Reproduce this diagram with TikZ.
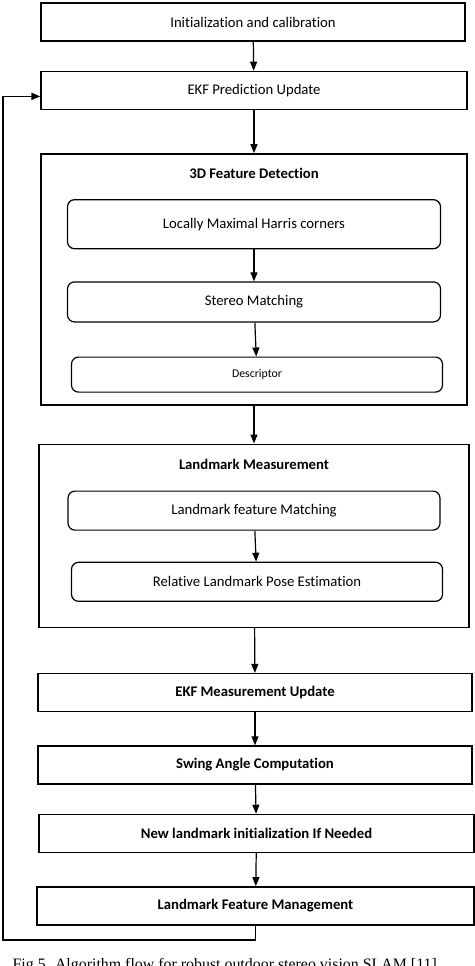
\documentclass[tikz,border=0pt]{standalone}
\usepackage{fontspec}
\setmainfont[Ligatures=NoCommon]{Carlito}
\newfontfamily\capfont{Liberation Serif}
\usetikzlibrary{arrows.meta,positioning}

\begin{document}
\begin{tikzpicture}[->,>={Triangle[length=9pt,width=7pt]},line width=1.2pt,node distance=30pt]
	\tikzstyle{every node}=[inner sep=0pt]
	\tikzstyle{block}=[draw=black,line width=1.4pt,rectangle,minimum height=38pt,font=\fontsize{14.7}{17}\selectfont]
	\tikzstyle{group}=[draw=black,line width=1.4pt,rectangle]
	\tikzstyle{inner}=[draw=black,line width=1.2pt,rounded corners=7pt,minimum width=373pt,font=\fontsize{14.7}{17}\selectfont]
	\tikzstyle{title}=[font=\bfseries\fontsize{14.7}{17}\selectfont]
	\useasboundingbox (0,0) rectangle (474pt,-966pt);

	\node[block,minimum width=424pt] (0) at (253pt,-22pt) {Initialization and calibration};
	\node[block,minimum width=426pt] (1) [below=29pt of 0,xshift=1pt] {EKF Prediction Update};
	\node[group,minimum width=426pt,minimum height=251pt] (2) [below=43pt of 1] {};
	\node[title] (t2) at ([yshift=-20pt]2.north) {3D Feature Detection};
	\node[inner,minimum height=49pt] (3) [below=46pt of 2.north] {Locally Maximal Harris corners};
	\node[inner,minimum height=40pt] (4) [below=32pt of 3] {Stereo Matching};
	\node[inner,minimum width=371pt,minimum height=35pt,font=\fontsize{11.8}{14}\selectfont] (5) [below=34pt of 4,xshift=3pt] {Descriptor};
	\node[group,minimum width=430pt,minimum height=183pt] (6) [below=38pt of 2] {};
	\node[title] (t6) at ([yshift=-21pt]6.north) {Landmark Measurement};
	\node[inner,minimum width=372pt,minimum height=39pt] (7) [below=47pt of 6.north] {Landmark feature Matching};
	\node[inner,minimum width=371pt,minimum height=39pt] (8) [below=31pt of 7,xshift=3pt] {Relative Landmark Pose Estimation};
	\node[block,title,minimum width=434pt] (9) [below=45pt of 6,xshift=1pt] {EKF Measurement Update};
	\node[block,title,minimum width=434pt] (10) [below=33pt of 9] {Swing Angle Computation};
	\node[block,title,minimum width=435pt] (11) [below=29pt of 10,xshift=1.5pt] {New landmark initialization If Needed};
	\node[block,title,minimum width=437pt] (12) [below=33pt of 11,xshift=-1pt] {Landmark Feature Management};
	\coordinate (c) at (3pt,-940pt);
	\node[anchor=base west,font=\capfont\fontsize{15.9}{18}\selectfont] (cap) at (12pt,-969pt) {Fig.5. Algorithm flow for robust outdoor stereo vision SLAM [11].};

	\path
	(0) edge (1)
	(1) edge (2)
	(3) edge (4)
	(4) edge (5)
	(2) edge (6)
	(7) edge (8)
	(6) edge (9)
	(9) edge (10)
	(10) edge (11)
	(11) edge (12)
	;
	\draw[line width=1.8pt] (12.south) |- (c) |- ([yshift=-6pt]1.west);
\end{tikzpicture}
\end{document}
